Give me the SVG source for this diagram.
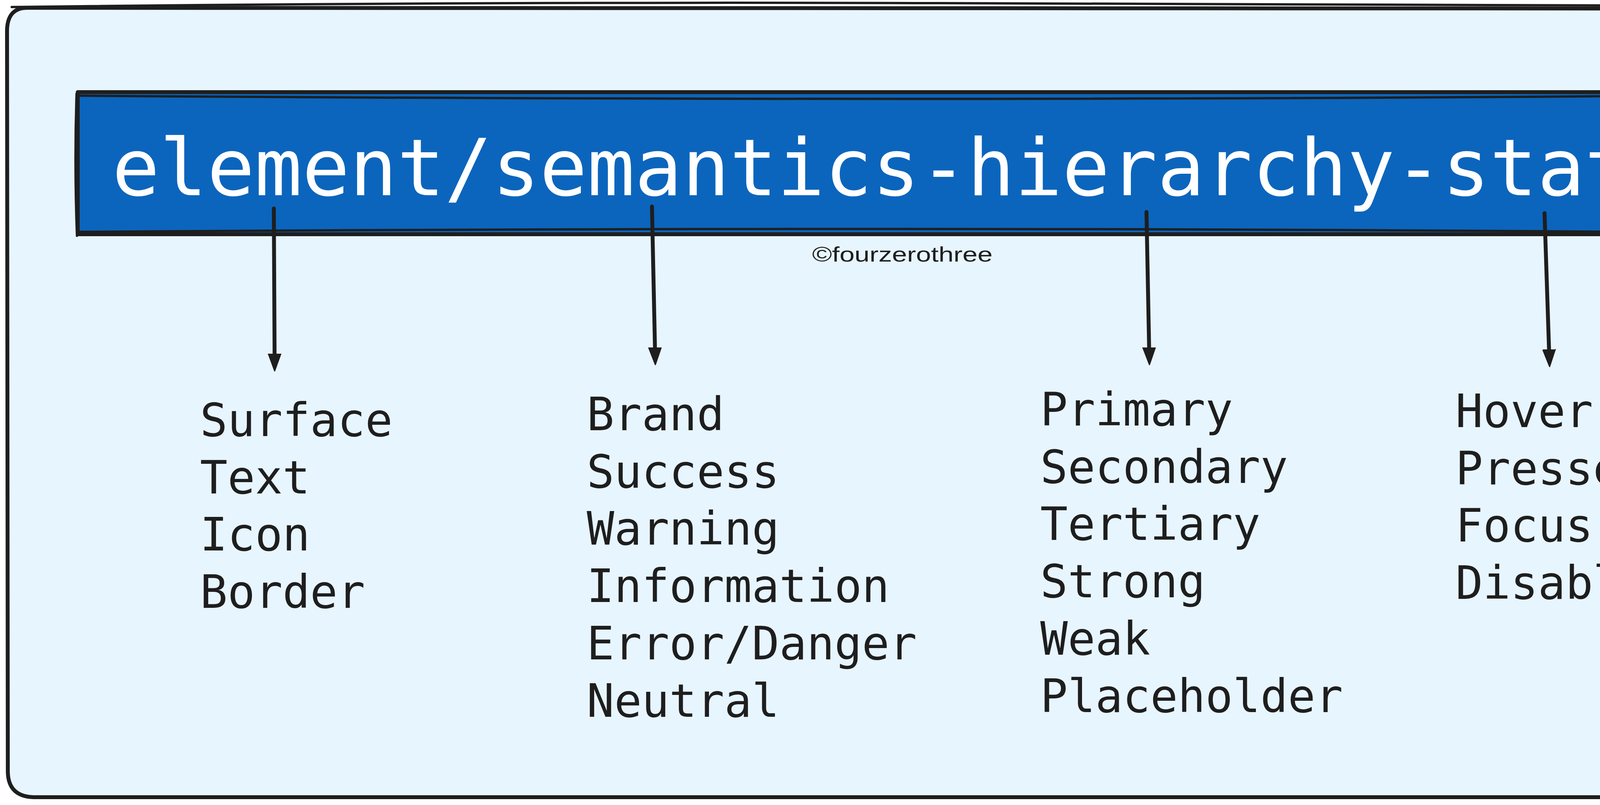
<svg xmlns="http://www.w3.org/2000/svg" width="4761" height="2062" viewBox="0 0 4761 2062">
  <defs>
    <style>
      .ink { fill: none; stroke: #1e1e1e; stroke-width: 10; stroke-linecap: round; stroke-linejoin: round; }
      .ink2 { fill: none; stroke: #1e1e1e; stroke-width: 6; stroke-linecap: round; stroke-linejoin: round; }
      .mono { font-family: "DejaVu Sans Mono", monospace; }
      .title { font-size: 202px; fill: #ffffff; }
      .item { font-size: 117px; fill: #1e1e1e; }
      .credit { font-family: "Liberation Sans", "Open Sans", sans-serif; font-size: 54px; fill: #1e1e1e; }
    </style>
    <marker id="arrowhead" markerUnits="userSpaceOnUse" viewBox="0 -20 50 40" markerWidth="50" markerHeight="40" refX="14" refY="0" orient="auto">
      <path d="M0,-16 L44,0 L0,16 Z" fill="#1e1e1e" stroke="#1e1e1e" stroke-width="3" stroke-linejoin="round"/>
    </marker>
  </defs>

  <rect width="4761" height="2062" fill="#ffffff"/>

  <g id="frame">
    <path d="M70,20 L4690,22 Q4738,24 4738,80 L4740,1975 Q4740,2042 4672,2042 L86,2042 Q20,2040 20,1975 L18,80 Q18,20 70,20 Z" fill="#e7f5ff"/>
    <path class="ink" d="M70,20 L4690,22 Q4738,24 4738,80 L4740,1975 Q4740,2042 4672,2042 L86,2042 Q20,2040 20,1975 L18,80 Q18,20 70,20 Z"/>
    <path class="ink2" d="M30,18 Q1200,4 2400,8 T4700,16"/>
  </g>

  <g id="header">
    <rect x="199" y="236" width="4210" height="362" fill="#0b65bd"/>
    <path class="ink" d="M199,236 L4409,236 L4405,600 L199,600 Z"/>
    <path class="ink2" d="M203,245 Q2400,262 4407,244"/>
    <path class="ink2" d="M203,594 Q2400,578 4403,596"/>
    <path class="ink2" d="M196,240 Q190,420 197,604"/>
    <path class="ink2" d="M4412,236 Q4400,400 4404,604"/>
    <text class="mono title" x="287" y="500">element/semantics-hierarchy-state</text>
  </g>

  <g id="credit">
    <text class="credit" x="2079" y="670" textLength="462" lengthAdjust="spacingAndGlyphs">©fourzerothree</text>
  </g>

  <g id="connectors">
    <path class="ink" d="M701,534 L703,920" marker-end="url(#arrowhead)"/>
    <path class="ink" d="M1669,529 L1677,904" marker-end="url(#arrowhead)"/>
    <path class="ink" d="M2935,543 L2942,904" marker-end="url(#arrowhead)"/>
    <path class="ink" d="M3954,546 L3966,909" marker-end="url(#arrowhead)"/>
  </g>

  <g id="element-list">
    <text class="mono item">
      <tspan x="512" y="1117">Surface</tspan>
      <tspan x="512" y="1263.7">Text</tspan>
      <tspan x="512" y="1410.4">Icon</tspan>
      <tspan x="512" y="1557.1">Border</tspan>
    </text>
  </g>

  <g id="semantics-list">
    <text class="mono item">
      <tspan x="1502" y="1102">Brand</tspan>
      <tspan x="1502" y="1248.7">Success</tspan>
      <tspan x="1502" y="1395.4">Warning</tspan>
      <tspan x="1502" y="1542.1">Information</tspan>
      <tspan x="1502" y="1688.8">Error/Danger</tspan>
      <tspan x="1502" y="1835.5">Neutral</tspan>
    </text>
  </g>

  <g id="hierarchy-list">
    <text class="mono item">
      <tspan x="2663" y="1090">Primary</tspan>
      <tspan x="2663" y="1236.7">Secondary</tspan>
      <tspan x="2663" y="1383.4">Tertiary</tspan>
      <tspan x="2663" y="1530.1">Strong</tspan>
      <tspan x="2663" y="1676.8">Weak</tspan>
      <tspan x="2663" y="1823.5">Placeholder</tspan>
    </text>
  </g>

  <g id="state-list">
    <text class="mono item">
      <tspan x="3726" y="1094">Hover</tspan>
      <tspan x="3726" y="1240.7">Pressed</tspan>
      <tspan x="3726" y="1387.4">Focus</tspan>
      <tspan x="3726" y="1534.1">Disabled</tspan>
    </text>
  </g>
</svg>
